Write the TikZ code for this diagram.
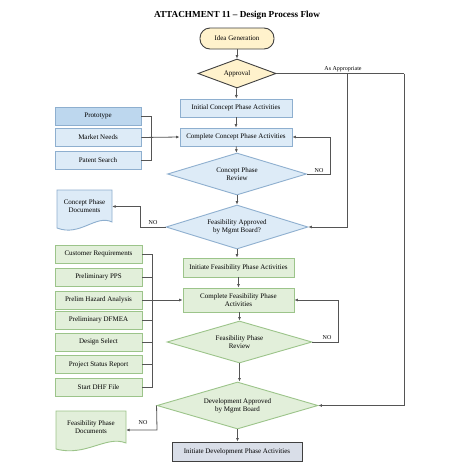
\documentclass[tikz,border=0pt]{standalone}
\usepackage{fontspec}
\setmainfont{Liberation Serif}
\usetikzlibrary{shapes.geometric,arrows.meta}
\definecolor{blueFill}{HTML}{DDEBF7}
\definecolor{protoFill}{HTML}{BDD7EE}
\definecolor{blueDraw}{HTML}{8EAFCF}
\definecolor{greenFill}{HTML}{E2EFDA}
\definecolor{greenDraw}{HTML}{9CC48A}
\definecolor{yellowFill}{HTML}{FFF2CC}
\definecolor{darkDraw}{HTML}{404040}
\definecolor{grayFill}{HTML}{D9DEE8}
\definecolor{lineCol}{HTML}{555555}
\newcommand\fsn{\fontsize{7}{8}\selectfont}
\newcommand\fss{\fontsize{6}{7}\selectfont}
\begin{document}
\begin{tikzpicture}[x=1pt,y=-1pt,
  bluebox/.style={rectangle, draw=blueDraw, fill=blueFill, line width=0.9pt, align=center, inner sep=1pt, font=\fsn, minimum height=18pt},
  greenbox/.style={rectangle, draw=greenDraw, fill=greenFill, line width=0.9pt, align=center, inner sep=1pt, font=\fsn, minimum height=18pt},
  bluedia/.style={diamond, draw=blueDraw, fill=blueFill, line width=0.9pt, align=center, inner sep=0pt, font=\fsn},
  greendia/.style={diamond, draw=greenDraw, fill=greenFill, line width=0.9pt, align=center, inner sep=0pt, font=\fsn},
  yellowdia/.style={diamond, draw=darkDraw, fill=yellowFill, line width=0.9pt, align=center, inner sep=0pt, font=\fsn},
  doctext/.style={rectangle, align=center, inner sep=0pt, font=\fsn},
  conn/.style={draw=lineCol, line width=0.8pt},
  arr/.style={conn, -{Latex[length=3.5pt,width=3pt]}},
  lbl/.style={font=\fss, inner sep=1pt, anchor=south}
]
\useasboundingbox (0,0) rectangle (474,469);
\fill[white] (0,0) rectangle (474,469);

\node[font=\fontsize{9.2}{11}\selectfont\bfseries] (title) at (237,15) {ATTACHMENT 11 – Design Process Flow};

\node[rectangle, rounded corners=10pt, draw=darkDraw, fill=yellowFill, line width=0.9pt, minimum width=74pt, minimum height=21pt, font=\fsn] (idea) at (237,38.5) {Idea Generation};
\node[yellowdia, aspect=2.7, minimum width=78pt, minimum height=29pt] (appr) at (237,73.5) {Approval};
\node[bluebox, minimum width=112pt] (ica) at (236,108) {Initial Concept Phase Activities};
\node[bluebox, minimum width=112pt] (cca) at (236,137) {Complete Concept Phase Activities};
\node[bluedia, aspect=3.3, minimum width=139pt, minimum height=42pt] (cpr) at (237,174) {Concept Phase\\Review};
\node[bluedia, aspect=3.2, minimum width=142pt, minimum height=44pt] (fab) at (237,227) {Feasibility Approved\\by Mgmt Board?};
\node[greenbox, minimum width=111pt, minimum height=19pt] (ifa) at (238.5,267.5) {Initiate Feasibility Phase Activities};
\node[greenbox, minimum width=111pt, minimum height=24pt] (cfa) at (238.5,300) {Complete Feasibility Phase\\Activities};
\node[greendia, aspect=3.4, minimum width=145pt, minimum height=42pt] (fpr) at (239.5,342) {Feasibility Phase\\Review};
\node[greendia, aspect=3.4, minimum width=161pt, minimum height=47pt] (dab) at (237.5,405.5) {Development Approved\\by Mgmt Board};
\node[rectangle, draw=darkDraw, fill=grayFill, line width=1pt, minimum width=130pt, minimum height=19pt, font=\fsn] (ida) at (237,451.5) {Initiate Development Phase Activities};

% left blue column
\node[bluebox, fill=protoFill, minimum width=86pt] (proto) at (98,116) {Prototype};
\node[bluebox, minimum width=86pt] (market) at (98,137.5) {Market Needs};
\node[bluebox, minimum width=86pt] (patent) at (98,160) {Patent Search};

% left green column
\node[greenbox, minimum width=87pt] (custreq) at (98.5,254) {Customer Requirements};
\node[greenbox, minimum width=87pt] (pps) at (98.5,277) {Preliminary PPS};
\node[greenbox, minimum width=87pt] (hazard) at (98.5,300) {Prelim Hazard Analysis};
\node[greenbox, minimum width=87pt] (dfmea) at (98.5,320) {Preliminary DFMEA};
\node[greenbox, minimum width=87pt] (dsel) at (98.5,342) {Design Select};
\node[greenbox, minimum width=87pt] (psr) at (98.5,364.5) {Project Status Report};
\node[greenbox, minimum width=87pt] (dhf) at (98.5,387) {Start DHF File};

% documents
\path[draw=blueDraw, fill=blueFill, line width=0.9pt] (57,190) -- (112,190) -- (112,222) .. controls (96,214) and (80,237) .. (57,228) -- cycle;
\node[doctext, minimum width=55pt] (cpd) at (84.5,206.5) {Concept Phase\\Documents};
\path[draw=greenDraw, fill=greenFill, line width=0.9pt] (56,411) -- (126,411) -- (126,443) .. controls (106,435) and (86,457) .. (56,449) -- cycle;
\node[doctext, minimum width=70pt] (fpd) at (91,427.5) {Feasibility Phase\\Documents};

% main flow
\draw[arr] (idea) -- (appr);
\draw[arr] (appr) -- (ica);
\draw[arr] (ica) -- (cca);
\draw[arr] (cca) -- (cpr);
\draw[arr] (cpr) -- (fab);
\draw[arr] (fab.south) -- (fab.south |- ifa.north);
\draw[arr] (ifa) -- (cfa);
\draw[arr] (cfa.south -| fpr.north) -- (fpr.north);
\draw[arr] (fpr) -- (fpr.south |- dab.north);
\draw[arr] (dab.south) -- (dab.south |- ida.north);

% as appropriate
\coordinate (aa1) at (404,73.5);
\coordinate (aa2) at (347,73.5);
\draw[conn] (appr.east) -- (aa1);
\draw[arr] (aa1) |- (dab.east);
\draw[arr] (aa2) |- (fab.east);
\node[lbl] (aalbl) at (343,73) {As Appropriate};

% NO loops
\draw[arr] (cpr.east) -- (330,174) |- (cca.east);
\node[lbl] (no1) at (319,174) {NO};
\draw[arr] (fab.west) -- (140,227) |- (cpd.east);
\node[lbl] (no2) at (153,226) {NO};
\draw[arr] (fpr.east) -- (338,342) |- (cfa.east);
\node[lbl] (no3) at (327,341) {NO};
\draw[arr] (dab.west) -- (157,430) -- (fpd.east |- 0,430);
\node[lbl] (no4) at (143,426) {NO};

% concept inputs
\draw[conn] (proto.east) -- (151,116) -- (151,160) -- (patent.east);
\draw[arr] (market.east) -- (cca.west);

% feasibility inputs
\draw[conn] (custreq.east) -- (152,254) -- (152,387) -- (dhf.east);
\draw[conn] (pps.east) -- (152,277);
\draw[conn] (dfmea.east) -- (152,320);
\draw[conn] (dsel.east) -- (152,342);
\draw[conn] (psr.east) -- (152,364.5);
\draw[arr] (hazard.east) -- (cfa.west);
\end{tikzpicture}
\end{document}
